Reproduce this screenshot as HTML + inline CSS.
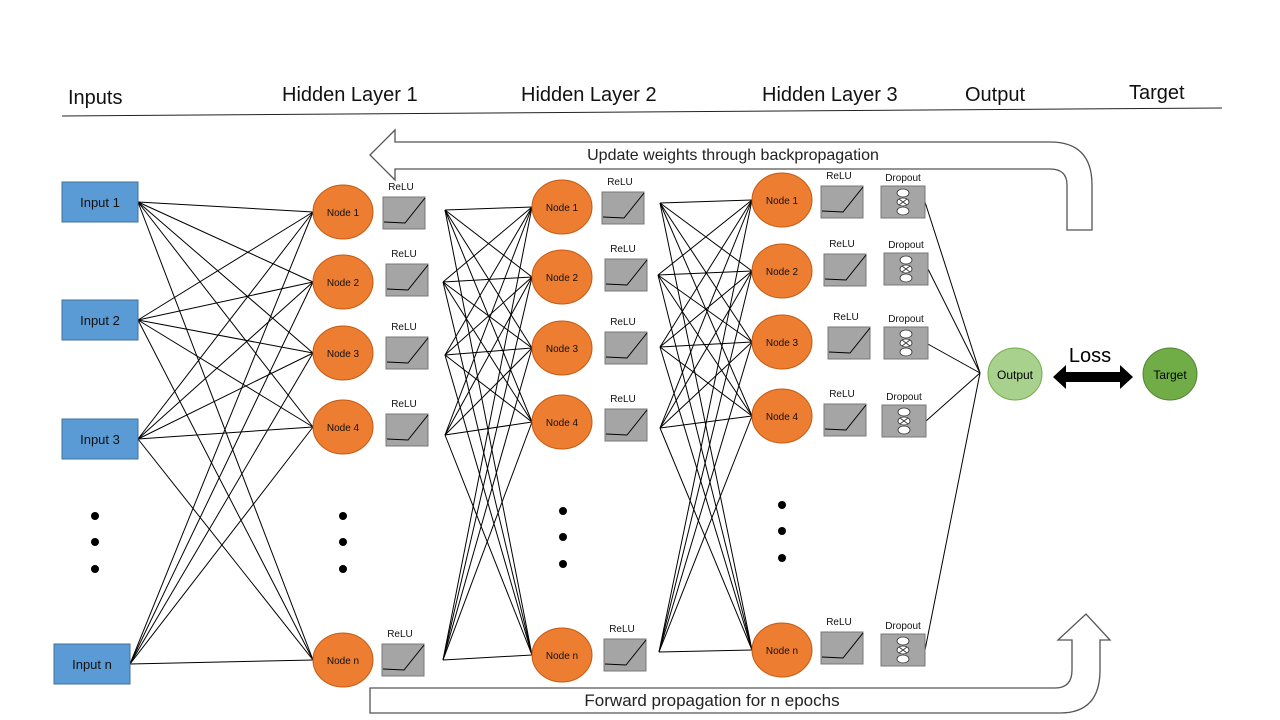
<!DOCTYPE html>
<html><head><meta charset="utf-8"><style>
html,body{margin:0;padding:0;background:#fff;}
svg{display:block;font-family:"Liberation Sans",sans-serif;}
</style></head><body>
<svg id="s" width="1280" height="720" viewBox="0 0 1280 720" xmlns="http://www.w3.org/2000/svg">
<rect width="1280" height="720" fill="#fff"/>
<g font-size="20" fill="#111">
<text x="68" y="104">Inputs</text>
<text x="282" y="101">Hidden Layer 1</text>
<text x="521" y="101">Hidden Layer 2</text>
<text x="762" y="101">Hidden Layer 3</text>
<text x="965" y="101">Output</text>
<text x="1129" y="99">Target</text>
</g>
<line x1="62" y1="116" x2="1222" y2="108" stroke="#222" stroke-width="1"/>
<!-- backprop arrow -->
<path d="M370,155 L395,130 L395,142 L1050,142 Q1092,142 1092,185 L1092,230 L1067,230 L1067,185 Q1067,169 1050,169 L395,169 L395,180 Z" fill="#fff" stroke="#555" stroke-width="1.3"/>
<text x="733" y="160" font-size="16" text-anchor="middle" fill="#222">Update weights through backpropagation</text>
<!-- forward arrow -->
<path d="M370,713 L1060,713 Q1100,713 1100,670 L1100,640 L1110,640 L1086,614 L1058,640 L1072,640 L1072,670 Q1072,688 1055,688 L370,688 Z" fill="#fff" stroke="#555" stroke-width="1.3"/>
<text x="712" y="706" font-size="17" text-anchor="middle" fill="#222">Forward propagation for n epochs</text>
<g id="lines" stroke="#000" stroke-width="1"></g>
<g id="shapes"></g>
<!-- output / target -->
<ellipse cx="1015" cy="374" rx="27" ry="26" fill="#a9d18e" stroke="#70ad47"/>
<text x="1015" y="379" font-size="12" text-anchor="middle">Output</text>
<ellipse cx="1170" cy="374" rx="27" ry="26" fill="#70ad47" stroke="#548235"/>
<text x="1170" y="379" font-size="12" text-anchor="middle">Target</text>
<text x="1090" y="362" font-size="20" text-anchor="middle">Loss</text>
<path d="M1053,377 L1066,365 L1066,372 L1120,372 L1120,365 L1133,377 L1120,389 L1120,382 L1066,382 L1066,389 Z" fill="#000"/>
</svg>
<script>
var NS="http://www.w3.org/2000/svg";
function el(p,t,a,txt){var e=document.createElementNS(NS,t);for(var k in a)e.setAttribute(k,a[k]);if(txt)e.textContent=txt;p.appendChild(e);return e;}
var L=document.getElementById('lines'),S=document.getElementById('shapes');
function line(a,b){el(L,'line',{x1:a[0],y1:a[1],x2:b[0],y2:b[1]});}
var inOut=[[138,202],[138,320],[138,439],[130,664]];
var l1=[212,282,353,427,660], l2=[207,277,348,422,655], l3=[200,271,342,416,650];
var l1out=[[445,210],[443,282],[445,355],[445,435],[443,660]];
var l2out=[[660,203],[658,275],[660,347],[660,428],[659,652]];
inOut.forEach(function(a){l1.forEach(function(y){line(a,[313,y]);});});
l1out.forEach(function(a){l2.forEach(function(y){line(a,[532,y]);});});
l2out.forEach(function(a){l3.forEach(function(y){line(a,[752,y]);});});
var dr=[[925,202],[928,269],[926,343],[926,421],[925,650]];
dr.forEach(function(a){line(a,[980,373]);});
// inputs
[[62,182,'Input 1'],[62,300,'Input 2'],[62,419,'Input 3'],[54,644,'Input n']].forEach(function(b){
 el(S,'rect',{x:b[0],y:b[1],width:76,height:40,fill:'#5b9bd5',stroke:'#41719c'});
 el(S,'text',{x:b[0]+38,y:b[1]+25,'font-size':13,'text-anchor':'middle',fill:'#111'},b[2]);
});
function node(cx,cy,lab){el(S,'ellipse',{cx:cx,cy:cy,rx:30,ry:27,fill:'#ed7d31',stroke:'#c55a11'});
 el(S,'text',{x:cx,y:cy+4,'font-size':10,'text-anchor':'middle',fill:'#111'},lab);}
function relu(x,y){el(S,'rect',{x:x,y:y,width:42,height:32,fill:'#a5a5a5',stroke:'#777'});
 el(S,'polyline',{points:(x+1)+','+(y+25)+' '+(x+22)+','+(y+26)+' '+(x+42)+','+(y+1),fill:'none',stroke:'#000'});
 el(S,'text',{x:x+18,y:y-7,'font-size':10,'text-anchor':'middle',fill:'#111'},'ReLU');}
function drop(x,y){el(S,'rect',{x:x,y:y,width:44,height:32,fill:'#a5a5a5',stroke:'#777'});
 var cx=x+22;[y+7,y+16,y+25].forEach(function(yy,i){el(S,'ellipse',{cx:cx,cy:yy,rx:6,ry:4,fill:'#fff',stroke:'#333','stroke-width':0.8});
 if(i==1){el(S,'path',{d:'M'+(cx-4)+','+(yy-3)+'L'+(cx+4)+','+(yy+3)+'M'+(cx-4)+','+(yy+3)+'L'+(cx+4)+','+(yy-3),stroke:'#333','stroke-width':0.8});}});
 el(S,'text',{x:x+22,y:y-5,'font-size':10,'text-anchor':'middle',fill:'#111'},'Dropout');}
var labs=['Node 1','Node 2','Node 3','Node 4','Node n'];
l1.forEach(function(y,i){node(343,y,labs[i]);});
l2.forEach(function(y,i){node(562,y,labs[i]);});
l3.forEach(function(y,i){node(782,y,labs[i]);});
[[383,197],[386,264],[386,337],[386,414],[382,644]].forEach(function(p){relu(p[0],p[1]);});
[[602,192],[605,259],[605,332],[605,409],[604,639]].forEach(function(p){relu(p[0],p[1]);});
[[821,186],[824,254],[828,327],[824,404],[821,632]].forEach(function(p){relu(p[0],p[1]);});
[[881,186],[884,253],[884,327],[882,405],[881,634]].forEach(function(p){drop(p[0],p[1]);});
[[95,[516,542,569]],[343,[516,542,569]],[563,[511,537,564]],[782,[505,531,558]]].forEach(function(d){
 d[1].forEach(function(y){el(S,'circle',{cx:d[0],cy:y,r:4,fill:'#000'});});});
</script>
</body></html>
